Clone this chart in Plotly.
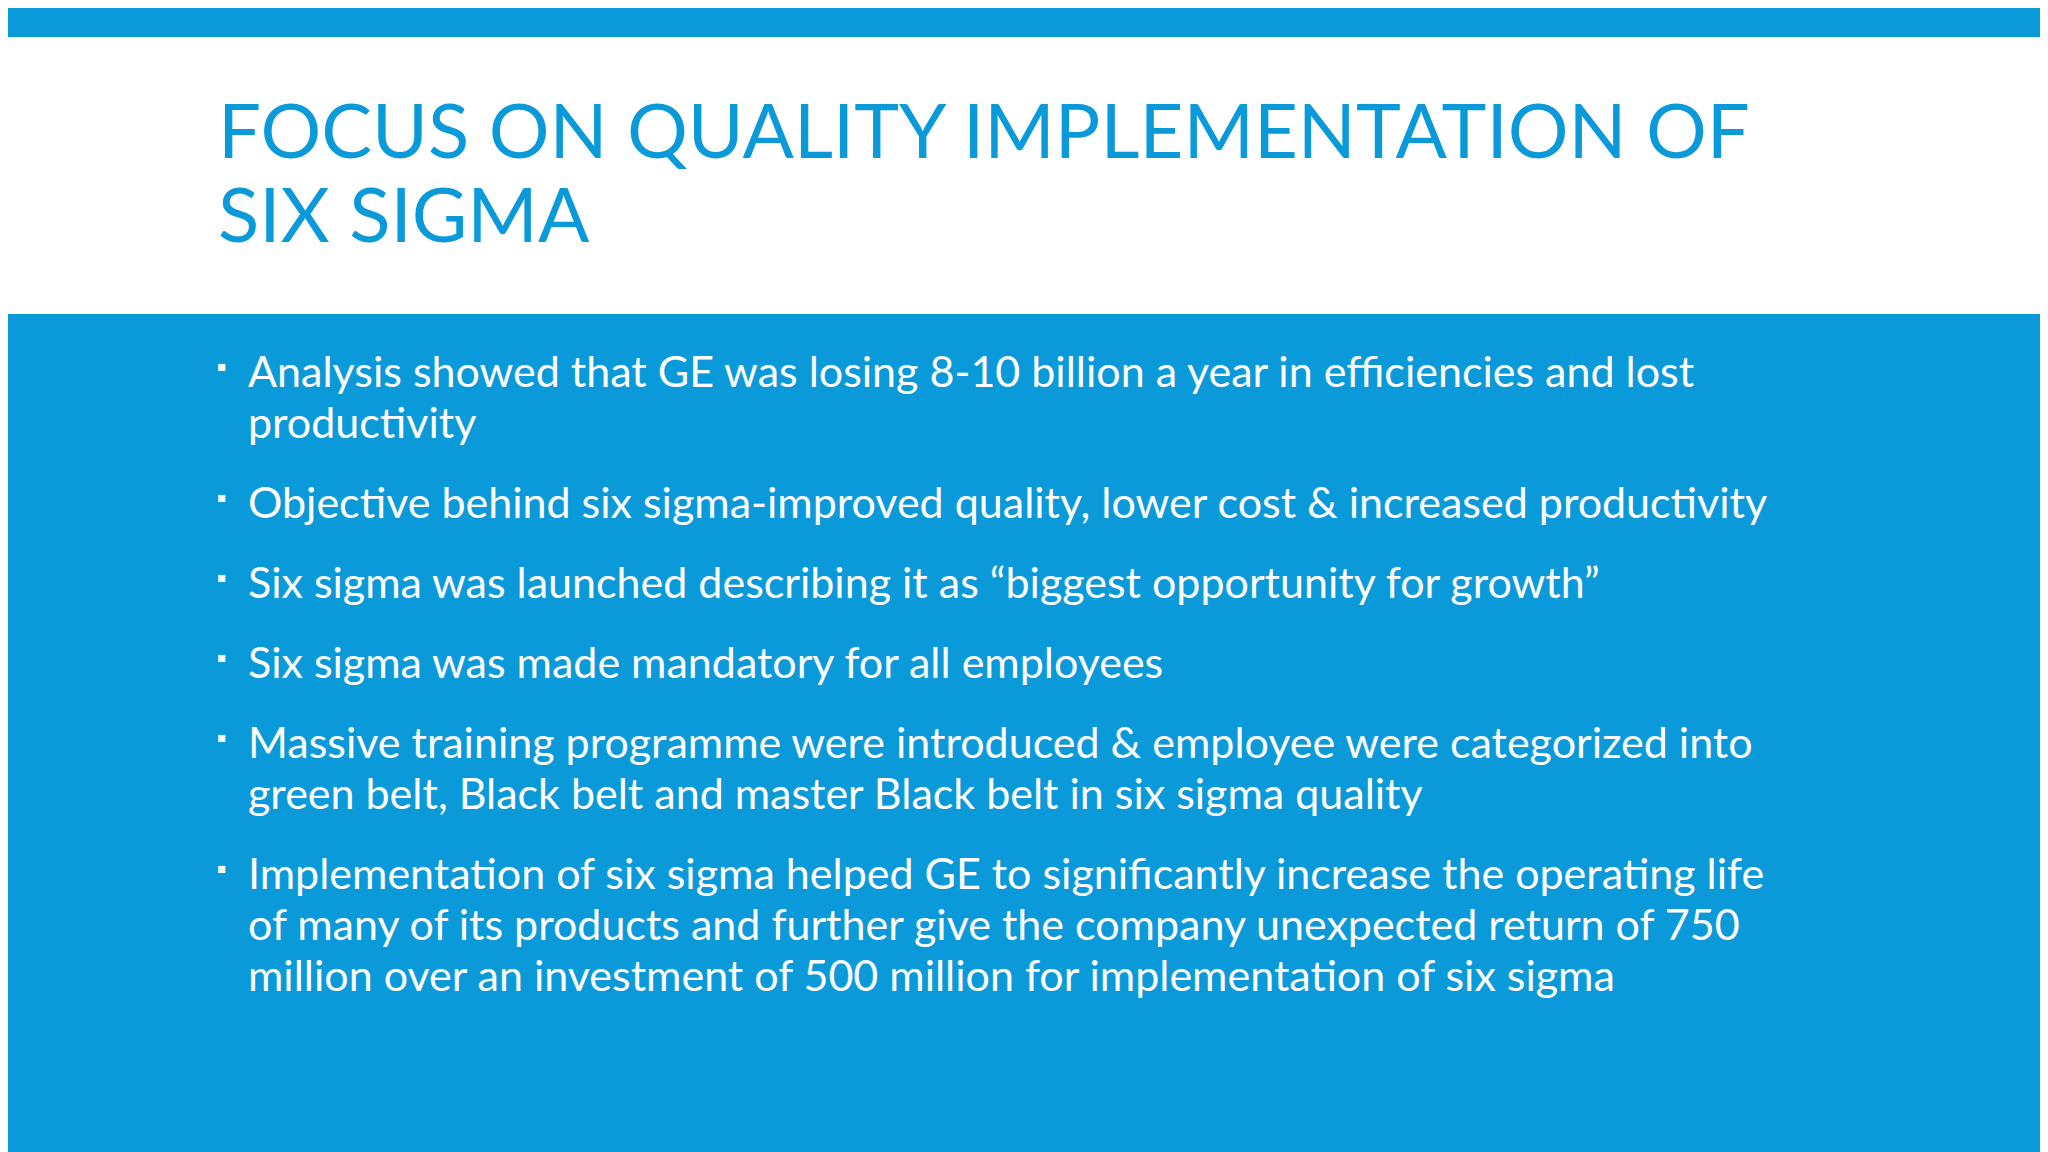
import plotly.graph_objects as go

title_lines = ["FOCUS ON QUALITY IMPLEMENTATION OF", "SIX SIGMA"]

bullets = [
    ["Analysis showed that GE was losing 8-10 billion a year in efficiencies and lost",
     "productivity"],
    ["Objective behind six sigma-improved quality, lower cost & increased productivity"],
    ["Six sigma was launched describing it as \u201cbiggest opportunity for growth\u201d"],
    ["Six sigma was made mandatory for all employees"],
    ["Massive training programme were introduced & employee were categorized into",
     "green belt, Black belt and master Black belt in six sigma quality"],
    ["Implementation of six sigma helped GE to significantly increase the operating life",
     "of many of its products and further give the company unexpected return of 750",
     "million over an investment of 500 million for implementation of six sigma"],
]

BLUE = "#0b9ad9"
W, H = 2048, 1152

fig = go.Figure()

# slide bands
fig.add_shape(type="rect", x0=0, x1=W, y0=0, y1=H, fillcolor=BLUE, line_width=0, layer="below")
fig.add_shape(type="rect", x0=0, x1=W - 3, y0=29, y1=306, fillcolor="white", line_width=0, layer="below")

# title
for i, line in enumerate(title_lines):
    fig.add_annotation(x=208, y=120 + i * 84, text=line, showarrow=False, xanchor="left", yanchor="middle",
                       font=dict(family="Lato", size=76, color=BLUE))

# bullets
y = 362
for item in bullets:
    fig.add_annotation(x=214, y=y - 4, text="\u25aa", showarrow=False, xanchor="center", yanchor="middle",
                       font=dict(family="DejaVu Sans", size=14, color="white"))
    for line in item:
        fig.add_annotation(x=238, y=y, text=line, showarrow=False, xanchor="left", yanchor="middle",
                           font=dict(family="Lato", size=43, color="white"))
        y += 51
    y += 29

fig.update_xaxes(range=[0, W], visible=False, fixedrange=True)
fig.update_yaxes(range=[H, 0], visible=False, fixedrange=True)
fig.update_layout(width=W, height=H, margin=dict(l=0, r=0, t=0, b=0),
                  paper_bgcolor=BLUE, plot_bgcolor=BLUE, showlegend=False)

fig.write_html("out.html")
